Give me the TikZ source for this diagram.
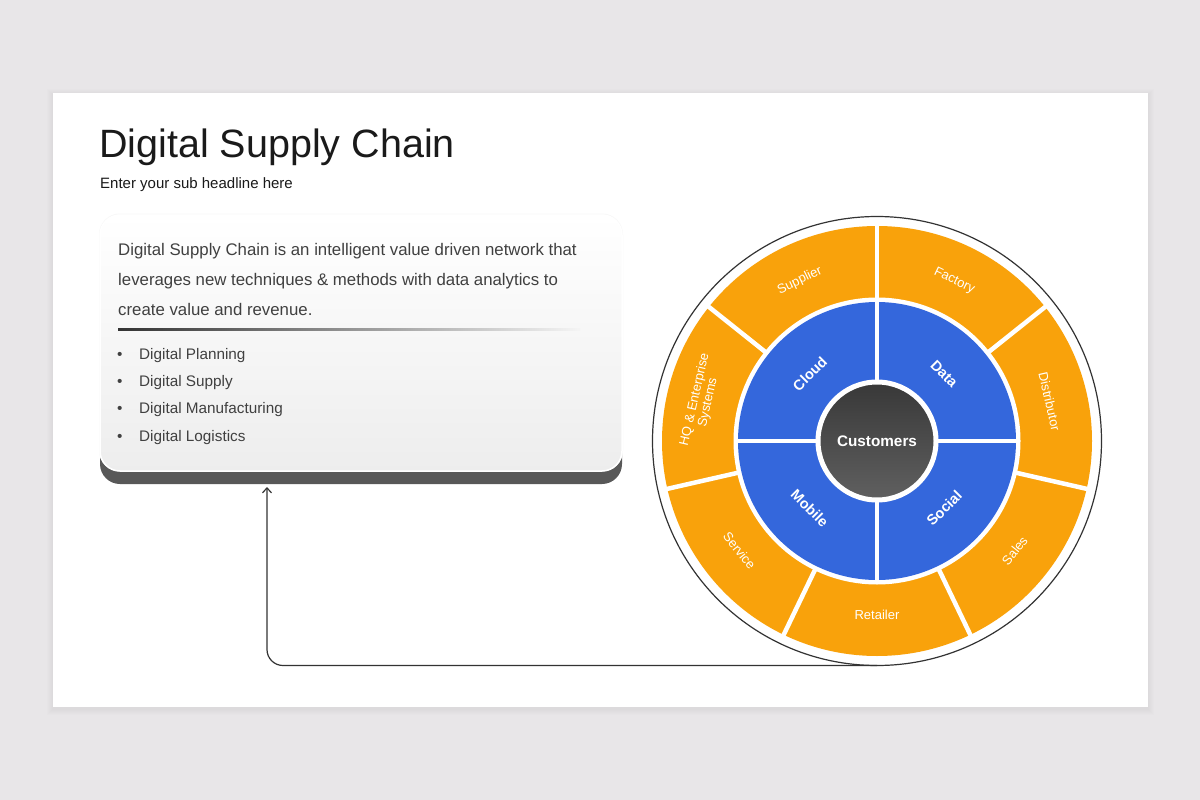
\documentclass[tikz,border=0pt]{standalone}
\usepackage{fontspec}
\setmainfont{Liberation Sans}
\usetikzlibrary{arrows.meta,calc}
\definecolor{bg}{HTML}{E8E6E8}
\definecolor{orng}{HTML}{F9A20B}
\definecolor{blu}{HTML}{3467DC}
\definecolor{dkA}{HTML}{383838}
\definecolor{dkB}{HTML}{606060}
\definecolor{shd}{HTML}{585858}
\definecolor{titlec}{HTML}{1A1A1A}
\definecolor{txt}{HTML}{404040}
\definecolor{linec}{HTML}{333333}
\tikzset{
  olab/.style={text=white, font=\fontsize{13}{13.5}\selectfont, inner sep=0, align=center},
  blab/.style={text=white, font=\bfseries\fontsize{14.5}{16}\selectfont, inner sep=0},
  para/.style={anchor=base west, inner sep=0, text=txt, font=\fontsize{16.8}{20}\selectfont},
  bul/.style={anchor=base west, inner sep=0, text=txt, font=\fontsize{15.3}{18}\selectfont},
  sep/.style={white, line width=4.5pt},
  conn/.style={draw=linec, line width=1.2pt, rounded corners=16pt, -{Straight Barb[length=5pt,width=9pt]}}
}
\begin{document}
\begin{tikzpicture}[x=1pt,y=-1pt]
\fill[bg] (0,0) rectangle (1200,800);
\useasboundingbox (0,0) rectangle (1200,800);
% soft slide shadow
\foreach \d in {1,2,...,6} {
  \fill[black, opacity=0.008] (53-\d,93-\d+2) rectangle (1148+\d,707+\d+2);
}
% slide
\node[fill=white, minimum width=1095, minimum height=614, inner sep=0, outer sep=0] (slide) at (600.5,400) {};
% title
\node[anchor=base west, inner sep=0, text=titlec, font=\fontsize{39.5}{44}\selectfont] (title) at (99,157) {Digital Supply Chain};
\node[anchor=base west, inner sep=0, text=titlec, font=\fontsize{15}{18}\selectfont] (sub) at (100,188) {Enter your sub headline here};
% text box
\node[fill=shd, rounded corners=20pt, minimum width=522, minimum height=256, inner sep=0, outer sep=0] (shadowbox) at (361,356) {};
\node[fill=black!3, rounded corners=21pt, minimum width=524, minimum height=258, inner sep=0, outer sep=0] (halo) at (361,342.5) {};
\node[rounded corners=20pt, top color=white, bottom color=black!7, draw=white, line width=1.5pt, minimum width=522, minimum height=256, inner sep=0, outer sep=0] (box) at (361,343) {};
\node[para] (p1) at (118,255) {Digital Supply Chain is an intelligent value driven network that};
\node[para] (p2) at (118,285) {leverages new techniques \& methods with data analytics to};
\node[para] (p3) at (118,315) {create value and revenue.};
\shade[left color=linec, right color=black!4] (118,328) rectangle (580,330.6);
\node[bul] (b1d) at (117,359) {•};
\node[bul] (b1) at (139,359) {Digital Planning};
\node[bul] (b2d) at (117,386) {•};
\node[bul] (b2) at (139,386) {Digital Supply};
\node[bul] (b3d) at (117,413) {•};
\node[bul] (b3) at (139,413) {Digital Manufacturing};
\node[bul] (b4d) at (117,441) {•};
\node[bul] (b4) at (139,441) {Digital Logistics};
% wheel
\node[circle, fill=white, draw=linec, line width=1.2pt, minimum size=449, inner sep=0, outer sep=0] (ring) at (877,441) {};
\begin{scope}[shift={(877,441)}, y=1pt]
  \fill[orng] (0,0) circle (215);
  \fill[white] (0,0) circle (143.5);
  \fill[blu] (0,0) circle (139);
  \foreach \k in {0,...,6} {
    \draw[sep] (90+\k*51.428571:141) -- (90+\k*51.428571:217);
  }
  \foreach \a in {0,90,180,270} {
    \draw[sep] (0,0) -- (\a:140);
  }
  \node[circle, top color=dkA, bottom color=dkB, draw=white, line width=5pt, minimum size=118, inner sep=0, text=white, font=\bfseries\fontsize{15.3}{17}\selectfont] (cust) at (0,0) {Customers};
  % blue labels
  \node[blab, rotate=45] (cloud) at (135:95) {Cloud};
  \node[blab, rotate=-45] (data) at (45:95) {Data};
  \node[blab, rotate=-45] (mobile) at (225:95) {Mobile};
  \node[blab, rotate=45] (social) at (315:95) {Social};
  % orange labels
  \node[olab, rotate=25.714] (supplier) at (115.714:178) {Supplier};
  \node[olab, rotate=-25.714] (factory) at (64.286:178) {Factory};
  \node[olab, rotate=-77.143] (distributor) at (12.857:177) {Distributor};
  \node[olab, rotate=51.429] (sales) at (321.429:176) {Sales};
  \node[olab] (retailer) at (270:174) {Retailer};
  \node[olab, rotate=-51.429] (service) at (218.571:176) {Service};
  \node[olab, rotate=77.143] (hq) at (167.143:180) {HQ \& Enterprise\\Systems};
\end{scope}
% connector
\coordinate (arrowend) at (267,487);
\draw[conn] (ring.south) -| (arrowend);
\end{tikzpicture}
\end{document}
